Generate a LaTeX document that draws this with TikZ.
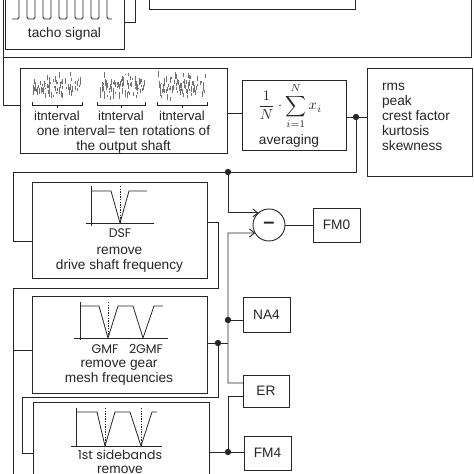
\documentclass[tikz,border=0pt]{standalone}
\usepackage{fontspec}
\setmainfont{Liberation Sans}
\newfontfamily\geofont{Poppins}
\usetikzlibrary{arrows.meta}

\begin{document}
\begin{tikzpicture}[x=1pt,y=1pt,color=black!85,line width=0.9pt,
	box/.style={draw,fill=white,inner sep=0pt,outer sep=0pt,font=\fontsize{13.7}{15}\selectfont},
	txt/.style={inner sep=0pt,align=center,font=\fontsize{13.7}{15}\selectfont},
	small/.style={inner sep=0pt,font=\fontsize{13}{14}\selectfont},
	geo/.style={inner sep=0pt,font=\geofont\fontsize{12.5}{13}\selectfont},
	curve/.style={line width=0.8pt},
	cutline/.style={line width=0.6pt,dash pattern=on 1.4pt off 1.2pt},
	arr/.style={-{Straight Barb[length=5pt,width=8pt]}}]
	\useasboundingbox (0,0) rectangle (474,474);
	% acquisition
	\node[box,minimum width=468pt,minimum height=117pt] (acq) at (237,475.5) {};
	\node[box,minimum width=125pt,minimum height=62pt] (refsig) at (72.5,483) {};
	\node[box,minimum width=119pt,minimum height=89pt] (tacho) at (64.5,469.5) {};
	\node[txt] (tachotxt) at (64.5,440) {tacho signal};
	\node[box,minimum width=206pt,minimum height=49pt] (vib) at (252,489.5) {};
	\draw[curve,rounded corners=1.5pt] (12,455) -- (19,455) -- (19,480)
		foreach \p in {27,43,59,75,91} {-- (\p,480) -- (\p,455) -- (\p+8,455) -- (\p+8,480)}
		-- (107,480) -- (107,455) -- (112,455);
	
	% synchronous averaging
	\node[box,minimum width=207pt,minimum height=85pt] (tsa) at (123.5,363.5) {};
	\pgfmathsetseed{21}
	\foreach \xa in {33,98,158} {
		\foreach \k in {1,...,90} {
			\pgfmathsetmacro\xx{\xa+47*rnd}
			\pgfmathsetmacro\yy{387.5+13*(rnd-rnd)}
			\pgfmathsetmacro\ll{0.8+2.5*rnd}
			\draw[line width=0.4pt,black!55] (\xx,\yy-\ll) -- (\xx,\yy+\ll);
		}
	}
	\foreach \xa/\xb [count=\n] in {32/82,97/145,157/207} {
		\draw[curve] (\xa,372) -- (\xa,369) -- (\xb,369) -- (\xb,372);
		\draw[curve] ({(\xa+\xb)/2},369) -- ({(\xa+\xb)/2},366);
		\node[small] (itv\n) at ({(\xa+\xb)/2},358) {itnterval};
	}
	\node[txt] (tsatxt) at (123.5,335) {one interval= ten rotations of\\the output shaft};
	\node[box,minimum width=104pt,minimum height=70pt] (avg) at (294,359) {};
	\node[inner sep=0pt] (avgform) at (290,368) {\scalebox{1.45}{$\displaystyle\frac{1}{N}\cdot\sum_{i=1}^{N}x_i$}};
	\node[txt] (avgtxt) at (289,333) {averaging};
	\node[box,minimum width=105pt,minimum height=108pt] (feat) at (419.5,352) {};
	\node[txt,align=left] (feattxt) at (416,357) {rms\\peak\\crest factor\\kurtosis\\skewness};
	
	% filters
	\node[box,minimum width=175pt,minimum height=96pt] (dsf) at (119.5,244) {};
	\draw[curve] (91,288) -- (91,248);
	\draw[curve] (86,251) -- (154,251);
	\draw[curve] (91,283) -- (111,283) -- (120,251) -- (129,283) -- (147,283);
	\draw[cutline] (120,288) -- (120,251);
	\node[geo] (dsflbl) at (120,241) {DSF};
	\node[txt] (dsftxt) at (119.5,214.5) {remove\\drive shaft frequency};
	
	\node[box,minimum width=175pt,minimum height=97pt] (gmf) at (119.5,129.5) {};
	\draw[curve] (80,172) -- (80,134);
	\draw[curve] (74,136) -- (168,136);
	\draw[curve] (80,168) -- (99,168) -- (108,136) -- (118,168) -- (133,168) -- (143,136) -- (154,168) -- (163,168);
	\draw[cutline] (108,172) -- (108,136);
	\node[geo] (gmflbl) at (105,125) {GMF};
	\node[geo] (gmflbl2) at (146,125) {2GMF};
	\node[txt] (gmftxt) at (119,101) {remove gear\\mesh frequencies};
	
	\node[box,minimum width=176pt,minimum height=118pt] (sbd) at (121,13) {};
	\draw[curve] (76,66) -- (76,27);
	\draw[curve] (71,28) -- (162,28);
	\draw[curve] (76,62) -- (97,62) -- (105,28) -- (115,62) -- (130,62) -- (141,28) -- (152,62) -- (157,62);
	\draw[cutline] (105,66) -- (105,28);
	\draw[cutline] (141,66) -- (141,28);
	\node[geo] (sbdlbl) at (120,19) {1st sidebands};
	\node[txt] (sbdtxt) at (120,4) {remove};
	
	% parameters
	\node[circle,draw,fill=white,minimum size=32pt,inner sep=0pt,outer sep=0pt] (minus) at (269,249) {\fontsize{20}{20}\selectfont\bfseries\raisebox{-2.4pt}{–}};
	\node[box,minimum width=47pt,minimum height=34pt] (fm0) at (336.5,249) {FM0};
	\node[box,minimum width=47pt,minimum height=35pt] (na4) at (266.5,159.5) {NA4};
	\node[box,minimum width=46pt,minimum height=32pt] (er) at (266,83) {ER};
	\node[box,minimum width=47pt,minimum height=34pt] (fm4) at (267.5,21) {FM4};
	
	\coordinate (j1) at (356,357);
	\coordinate (j2) at (228,302);
	\coordinate (j3) at (228,154);
	\coordinate (j4) at (218,131);
	\coordinate (j5) at (228,22);
	\coordinate (lrail) at (13,302);
	\coordinate (lrail2) at (13,186);
	\coordinate (lrailend) at (13,-10);
	\coordinate (mrail) at (228,241);
	\coordinate (srail) at (22,77);
	\coordinate (gmfend) at (228,131);
	\coordinate (gmfin) at ([yshift=-5.5pt]gmf.west);
	
	\draw (acq.south west) |- ([yshift=5.5pt]tsa.west);
	\draw ([yshift=-2.5pt]tsa.east) -- ([yshift=2pt]avg.west);
	\draw ([yshift=-2pt]avg.east) -- ([yshift=5pt]feat.west);
	\draw (j1) |- (lrail) |- ([yshift=-11pt]dsf.west);
	\draw[arr] (j2) |- (minus.131);
	\draw[arr] ([yshift=8pt]er.west) -| (mrail) -- (minus.210);
	\draw (minus) -- (fm0);
	\draw ([yshift=8pt]dsf.east) -| (lrail2 -| j4) -- (lrail2) -- (lrailend);
	\draw (lrail2 |- gmfin) -- (gmfin);
	\draw ([yshift=1.5pt]gmf.east) -- (gmfend);
	\draw (j4) |- (srail) |- ([yshift=8pt]sbd.west);
	\draw (j3) -- ([yshift=-5.5pt]na4.west);
	\draw ([yshift=9pt]sbd.east) -- ([yshift=1pt]fm4.west);
	\draw (j5) |- ([yshift=-5pt]er.west);
	\foreach \j in {j1,j2,j3,j4,j5}
		\fill (\j) circle (3.2pt);
\end{tikzpicture}
\end{document}
